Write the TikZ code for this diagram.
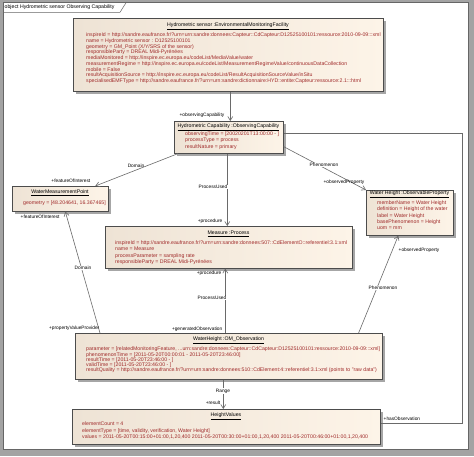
\documentclass[tikz,border=0pt]{standalone}
\usepackage{fontspec}
\setmainfont{Liberation Sans}
\usetikzlibrary{arrows.meta,shadows}
\definecolor{boxL}{HTML}{EEE3D5}
\definecolor{boxR}{HTML}{FDF4E8}
\definecolor{attrc}{HTML}{A02A2A}
\definecolor{connc}{HTML}{6A6A6A}
\definecolor{framec}{HTML}{A3A3A3}
\begin{document}
\begin{tikzpicture}[x=1pt,y=-1pt,
  umlbox/.style={draw=black!70, line width=0.6pt, left color=boxL, right color=boxR,
    inner sep=0pt, anchor=north west,
    general shadow={fill=black!35, shadow xshift=2.5pt, shadow yshift=-2.5pt}},
  ttl/.style={font=\fontsize{5.2}{5.7}\selectfont, inner sep=0pt, anchor=center},
  attrs/.style={font=\fontsize{5.2}{#1}\selectfont, text=attrc, align=left, inner sep=0pt, anchor=north west},
  conn/.style={draw=connc, line width=0.6pt},
  arr/.style={-{Straight Barb[length=4pt,width=5pt]}},
  role/.style={font=\fontsize{4.8}{5}\selectfont, inner sep=0.5pt},
  mid/.style={role, fill=white},
]
\useasboundingbox (0,0) rectangle (474,456);
% frame
\fill[framec] (0,0) rectangle (474,456);
\fill[white] (3,2) rectangle (468,449);
\draw[black!60, line width=0.5pt] (3,2) rectangle (468,449);
\draw[black!60, line width=0.5pt] (3,12.3) -- (120,12.3) -- (126.5,2);
\node[ttl, anchor=west] (frametitle) at (4.5,7.3) {object Hydrometric sensor Observing Capability};

% boxes
\node[umlbox, minimum width=310pt, minimum height=73pt] (emf) at (73,18) {};
\node[ttl] (emft) at (228,26.5) {\underline{Hydrometric sensor :EnvironmentalMonitoringFacility}};
\node[attrs=5.75pt] (emfa) at (86,32.6) {inspireId = http://sandre.eaufrance.fr/?urn=urn:sandre:donnees:Capteur::CdCapteur:D12525100101:ressource:2010-09-09:::xml\\
name = Hydrometric sensor : D12525100101\\
geometry = GM\_Point (X/Y/SRS of the sensor)\\
responsibleParty = DREAL Midi-Pyrénées\\
mediaMonitored = http://inspire.ec.europa.eu/codeList/MediaValue/water\\
measurementRegime = http://inspire.ec.europa.eu/codeList/MeasurementRegimeValue/continuousDataCollection\\
mobile = False\\
resultAcquisitionSource = http://inspire.ec.europa.eu/codeList/ResultAcquisitionSourceValue/inSitu\\
specialisedEMFType = http://sandre.eaufrance.fr/?urn=urn:sandre:dictionnaire:HYD::entite:Capteur:ressource:2.1:::html};

\node[umlbox, minimum width=109pt, minimum height=32pt] (cap) at (174,121) {};
\node[ttl] (capt) at (228.5,127) {\underline{Hydrometric Capability :ObservingCapability}};
\node[attrs=6.7pt] (capa) at (185,131.1) {observingTime = [20020201T13:00:00 - ]\\
processType = process\\
resultNature = primary};

\node[umlbox, minimum width=96pt, minimum height=25pt] (wmp) at (12,186) {};
\node[ttl] (wmpt) at (60,193) {\underline{WaterMeasurementPoint}};
\node[attrs=6pt] (wmpa) at (23,200.6) {geometry = [48.204641, 16.367465]};

\node[umlbox, minimum width=87pt, minimum height=45pt] (wh) at (366,190) {};
\node[ttl] (wht) at (409.5,194.5) {\underline{Water Height :ObservableProperty}};
\node[attrs=6.25pt] (wha) at (377,200.6) {memberName = Water Height\\
definition = Height of the water\\
label = Water Height\\
basePhenomenon = Height\\
uom = mm};

\node[umlbox, minimum width=247pt, minimum height=42pt] (meas) at (105,226) {};
\node[ttl] (meast) at (228.5,234) {\underline{Measure :Process}};
\node[attrs=6.3pt] (measa) at (115,240.6) {inspireId = http://sandre.eaufrance.fr/?urn=urn:sandre:donnees:507::CdElementO::referentiel:3.1:xml\\
name = Measure\\
processParameter = sampling rate\\
responsibleParty = DREAL Midi-Pyrénées};

\node[umlbox, minimum width=307pt, minimum height=46pt] (om) at (75,333) {};
\node[ttl] (omt) at (228.5,340) {\underline{WaterHeight :OM\_Observation}};
\node[attrs=5.25pt] (oma) at (86,346.9) {parameter = [relatedMonitoringFeature, ...urn:sandre:donnees:Capteur::CdCapteur:D12525100101:ressource:2010-09-09:::xml]\\
phenomenonTime = [2011-05-20T00:00:01 - 2011-05-20T23:46:00]\\
resultTime = [2011-05-20T23:46:00 - ]\\
validTime = [2011-05-20T23:46:00 - ]\\
resultQuality = http://sandre.eaufrance.fr/?urn=urn:sandre:donnees:510::CdElement:4::referentiel:3.1:xml (points to "raw data")};

\node[umlbox, minimum width=308pt, minimum height=35pt] (hv) at (72,409) {};
\node[ttl] (hvt) at (226,416) {\underline{HeightValues}};
\node[attrs=6.5pt] (hva) at (82,421.6) {elementCount = 4\\
elementType = [time, validity, verification, Water Height]\\
values = 2011-05-20T00:15:00+01:00,1,20,400 2011-05-20T00:30:00+01:00,1,20,400 2011-05-20T00:46:00+01:00,1,20,400};

% connectors
\draw[conn,arr] ([xshift=2pt]emf.south) -- ([xshift=1.5pt]cap.north);
\node[role, anchor=east] (l1) at (225,115) {+observingCapability};

\draw[conn,arr] ([xshift=4pt]cap.south west) -- ([xshift=35pt]wmp.north);
\node[role, anchor=east] (l2) at (145,166) {Domain};
\node[role, anchor=east] (l3) at (91,181) {+featureOfInterest};

\draw[conn,arr] ([xshift=-1.5pt]cap.south) -- ([xshift=-1.5pt]meas.north);
\node[mid] (l4) at (213,187) {ProcessUsed};
\node[role, anchor=east] (l5) at (223,221) {+procedure};

\draw[conn,arr] ([xshift=-3.5pt]om.north) -- ([xshift=-3.5pt]meas.south);
\node[role, anchor=east] (l6) at (222,273) {+procedure};
\node[mid] (l7) at (212,298) {ProcessUsed};
\node[role, anchor=east] (l8) at (223,329) {+generatedObservation};

\draw[conn,arr] ([xshift=-5.5pt]om.south) -- ([xshift=-3pt]hv.north);
\node[mid] (l9) at (223,391) {Range};
\node[role, anchor=east] (l10) at (221,403) {+result};

\coordinate (r1) at (462,133);
\coordinate (r2) at (462,423);
\draw[conn] ([yshift=-12pt]cap.north east) -- (r1) -- (r2) -- (hv.east |- r2);
\node[role, anchor=west] (l11) at (383,419) {+hasObservation};

\draw[conn,arr] ([yshift=7pt]cap.south east) -- (wh.north west);
\node[mid] (l12) at (324,165) {Phenomenon};
\node[role, anchor=east] (l13) at (365,182) {+observedProperty};

\draw[conn,arr] ([xshift=-24pt]om.north east) -- ([xshift=-11.5pt]wh.south);
\node[role, anchor=west] (l14) at (398,250) {+observedProperty};
\node[mid] (l15) at (383,288) {Phenomenon};

\draw[conn,arr] ([xshift=25pt]om.north west) -- ([xshift=5pt]wmp.south);
\node[role, anchor=west] (l16) at (20,217) {+featureOfInterest};
\node[mid] (l17) at (83,268) {Domain};
\node[role, anchor=east] (l18) at (100,328) {+propertyValueProvider};
\end{tikzpicture}
\end{document}
